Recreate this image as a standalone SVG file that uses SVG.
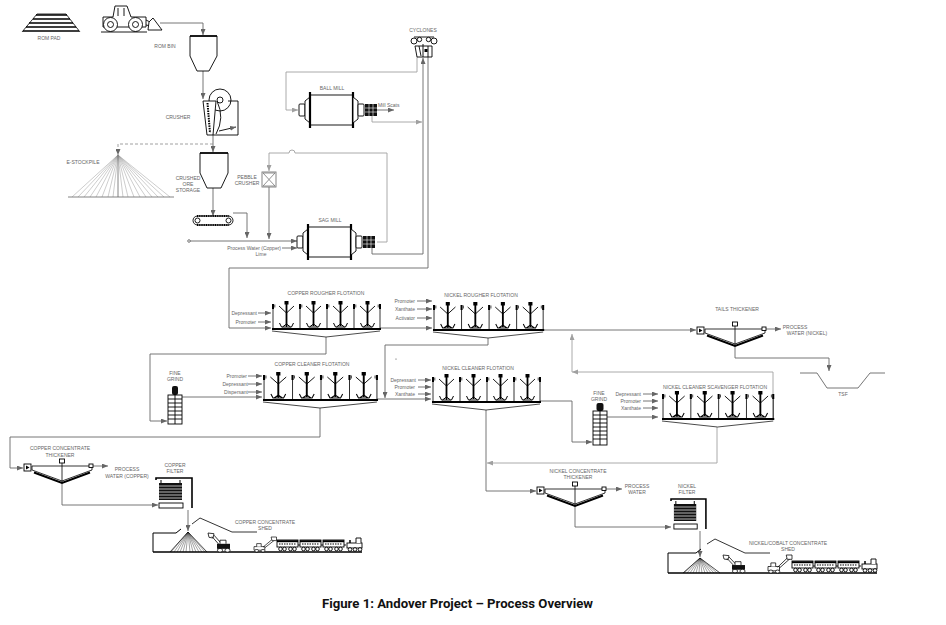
<svg xmlns="http://www.w3.org/2000/svg" width="946" height="625" viewBox="0 0 946 625">
<style>
.lb{font-family:"Liberation Sans",Arial,sans-serif;font-size:5px;fill:#666}
.m{text-anchor:middle}
.e{text-anchor:end}
.ln{fill:none;stroke:#666;stroke-width:0.9}
.lt{fill:none;stroke:#a0a0a0;stroke-width:0.9}
.k{fill:none;stroke:#000;stroke-width:0.9}
.kw{fill:#fff;stroke:#000;stroke-width:0.9}
.ttl{font-family:Roboto,"Liberation Sans",Arial,sans-serif;font-size:12px;font-weight:bold;fill:#111}
</style>
<defs>
<marker id="a" viewBox="0 0 6 5" refX="6" refY="2.5" markerWidth="6" markerHeight="5" markerUnits="userSpaceOnUse" orient="auto"><path d="M0,0L6,2.5L0,5Z" fill="#666"/></marker>
<marker id="b" viewBox="0 0 6 5" refX="6" refY="2.5" markerWidth="6" markerHeight="5" markerUnits="userSpaceOnUse" orient="auto"><path d="M0,0L6,2.5L0,5Z" fill="#a0a0a0"/></marker>
<g id="bank">
 <path fill="none" stroke="#000" stroke-width="0.8" d="M1,6V28M28,6V28M55,6V28M82,6V28M108,6V28"/>
 <path fill="none" stroke="#000" stroke-width="2" d="M1,3V8M28,3V8M55,3V8M82,3V8M108,3V8"/>
 <path fill="none" stroke="#000" stroke-width="0.7" d="M2.8,3.5V6.5M29.8,3.5V6.5M56.8,3.5V6.5M83.8,3.5V6.5M106.2,3.5V6.5"/>
 <path fill="none" stroke="#000" stroke-width="1.8" d="M14.5,3V25M41.5,3V25M68.5,3V25M95.5,3V25"/>
 <path fill="none" stroke="#000" stroke-width="0.9" d="M7,5L14.5,12L22,5M34,5L41.5,12L49,5M61,5L68.5,12L76,5M88,5L95.5,12L103,5"/>
 <path fill="none" stroke="#000" stroke-width="1" d="M7.5,22L9.5,26H19.5L21.5,22M10.5,26L14.5,23L18.5,26M14.5,23V26M34.5,22L36.5,26H46.5L48.5,22M37.5,26L41.5,23L45.5,26M61.5,22L63.5,26H73.5L75.5,22M64.5,26L68.5,23L72.5,26M88.5,22L90.5,26H100.5L102.5,22M91.5,26L95.5,23L99.5,26"/>
 <path fill="#000" d="M12.5,0h4v3.5h-4zM39.5,0h4v3.5h-4zM66.5,0h4v3.5h-4zM93.5,0h4v3.5h-4z"/>
 <path fill="none" stroke="#000" stroke-width="2" d="M0,28H109"/>
 <path fill="none" stroke="#000" stroke-width="0.7" d="M0,30L54,36L108,30"/>
</g>
<g id="mill">
 <rect class="kw" x="-11" y="12" width="6" height="12" rx="1"/>
 <path class="kw" d="M-5,9L0,5V31L-5,27Z"/>
 <rect class="kw" x="0" y="3" width="43" height="30"/>
 <path fill="none" stroke="#000" stroke-width="2.2" d="M0,0V36M43,0V36"/>
 <path class="kw" d="M43,5L48,9V27L43,31Z"/>
 <rect class="kw" x="48" y="12" width="6" height="12" rx="1"/>
 <rect x="55" y="12" width="12" height="12" fill="#111"/>
 <path fill="none" stroke="#fff" stroke-width="0.6" d="M55,16H67M55,20H67M59,12V24M63,12V24"/>
</g>
<g id="thk">
 <rect class="kw" x="-38" y="-2" width="7" height="7"/>
 <path d="M-36,-0.5L-32.5,1.5L-36,3.5Z" fill="#000"/>
 <path fill="none" stroke="#000" stroke-width="0.8" d="M-30,0H30M-30,0V4M30,0V4M-30,4L0,15L30,4"/>
 <path fill="none" stroke="#000" stroke-width="2" d="M-28,6.5L0,17L28,6.5"/>
 <path fill="none" stroke="#000" stroke-width="0.8" d="M0,-3V17"/>
 <rect class="kw" x="-2.5" y="-7" width="5" height="4"/>
 <rect class="kw" x="27" y="-2" width="4" height="3.5"/>
</g>
<g id="filt">
 <path fill="none" stroke="#000" stroke-width="1.6" d="M0,2V0H36V30"/>
 <rect x="3" y="5" width="23" height="17" fill="#111"/>
 <path fill="none" stroke="#fff" stroke-width="0.7" d="M3,8H26M3,11H26M3,14H26M3,17H26M3,20H26"/>
 <path fill="none" stroke="#000" stroke-width="1" d="M5,2V5M24,2V5"/>
 <rect class="kw" x="3" y="25" width="24" height="5"/>
</g>
<g id="ldr">
 <path class="kw" d="M0,0L6,1L5,7L1,6Z"/>
 <path class="k" d="M4,5L11,16M6,3L13,14"/>
 <path class="kw" d="M12,15V10H18V15"/>
 <rect x="9" y="15" width="13" height="7" fill="#111"/>
 <circle class="kw" cx="12" cy="24" r="2.6"/>
 <circle class="kw" cx="19.5" cy="24" r="2.6"/>
</g>
<g id="crn">
 <path class="kw" d="M0,16H12V22H0Z"/>
 <path class="kw" d="M3,16V11H8V16"/>
 <path class="k" d="M10,17L21,3M12,18L23,5"/>
 <path class="kw" d="M19,0H25V6H20Z"/>
 <circle class="kw" cx="3" cy="23" r="2.2"/>
 <circle class="kw" cx="10" cy="23" r="2.2"/>
</g>
<g id="wag">
 <rect class="kw" x="0" y="0" width="21" height="7"/>
 <path fill="none" stroke="#000" stroke-width="2" d="M0,1.2H21"/>
 <path fill="none" stroke="#000" stroke-width="1.2" stroke-dasharray="1.5 1" d="M2,4H19"/>
 <path class="k" d="M21,5H23"/>
 <circle class="kw" cx="3.5" cy="9" r="1.8"/>
 <circle class="kw" cx="7.5" cy="9" r="1.8"/>
 <circle class="kw" cx="13.5" cy="9" r="1.8"/>
 <circle class="kw" cx="17.5" cy="9" r="1.8"/>
</g>
<g id="loco">
 <rect class="kw" x="0" y="5" width="15" height="5"/>
 <path class="kw" d="M9,5V0H14V5"/>
 <path fill="none" stroke="#000" stroke-width="1.5" d="M3,5V2"/>
 <circle class="kw" cx="3" cy="11.5" r="1.8"/>
 <circle class="kw" cx="8" cy="11.5" r="1.8"/>
 <circle class="kw" cx="13" cy="11.5" r="1.8"/>
</g>
</defs>
<rect width="946" height="625" fill="#fff"/>

<g id="connectors">
 <path class="ln" marker-end="url(#a)" d="M160,23H203V35"/>
 <path class="ln" marker-end="url(#a)" d="M203,71V99"/>
 <path class="ln" marker-end="url(#a)" d="M213,135V152"/>
 <path fill="none" stroke="#888" stroke-width="0.8" stroke-dasharray="3 2" marker-end="url(#a)" d="M213,144H118V155"/>
 <path class="ln" marker-end="url(#a)" d="M213,188V216"/>
 <path class="ln" marker-end="url(#a)" d="M233,213H247V238"/>
 <path class="ln" stroke="#444" marker-end="url(#a)" d="M189,241H297"/>
 <circle cx="189" cy="241" r="1.3" fill="#fff" stroke="#444" stroke-width="0.7"/>
 <path class="ln" marker-end="url(#a)" d="M282,248H297"/>
 <path class="ln" marker-end="url(#a)" d="M269,187V239"/>
 <path class="lt" marker-end="url(#b)" d="M377,242H387V153H295A3,3 0 0 0 289,153H269V171"/>
 <path class="ln" marker-end="url(#a)" d="M372,248V254H423V58"/>
 <path class="ln" marker-end="url(#a)" d="M428,57V268H229V328H271"/>
 <path class="lt" marker-end="url(#b)" d="M417,57V72H286V110H298"/>
 <path class="lt" marker-end="url(#b)" d="M372,116V122H422"/>
 <path class="ln" marker-end="url(#a)" d="M377,110H394"/>
 <path class="ln" marker-end="url(#a)" d="M380,328H432"/>
 <path class="ln" marker-end="url(#a)" d="M326,337V354H150V421H167"/>
 <path class="ln" marker-end="url(#a)" d="M182,397H262"/>
 <path class="ln" marker-end="url(#a)" d="M377,399H431"/>
 <path class="ln" marker-end="url(#a)" d="M488,338V345H385V398"/>
 <path class="ln" marker-end="url(#a)" d="M543,330H696"/>
 <path class="lt" marker-end="url(#b)" d="M773,418V372H572V334"/>
 <path d="M578,369.5L572,372L578,374.5Z" fill="#a0a0a0"/>
 <path class="ln" marker-end="url(#a)" d="M540,401H572V442H592"/>
 <path class="ln" marker-end="url(#a)" d="M607,417H658"/>
 <path class="lt" marker-end="url(#b)" d="M717,427V463H487"/>
 <path class="ln" marker-end="url(#a)" d="M486,410V491H536"/>
 <path class="ln" marker-end="url(#a)" d="M320,408V437H10V468H23"/>
 <path class="ln" marker-end="url(#a)" d="M93,466H108"/>
 <path class="ln" marker-end="url(#a)" d="M62,483V505H158"/>
 <path class="ln" marker-end="url(#a)" d="M188,510V531"/>
 <path class="ln" marker-end="url(#a)" d="M606,489H622"/>
 <path class="ln" marker-end="url(#a)" d="M575,506V527H671"/>
 <path class="ln" marker-end="url(#a)" d="M700,531V557"/>
 <path class="ln" marker-end="url(#a)" d="M766,329H781"/>
 <path class="ln" marker-end="url(#a)" d="M735,346V358H829V371"/>
 <g class="ln">
  <path marker-end="url(#a)" d="M258,313H271"/>
  <path marker-end="url(#a)" d="M258,322H271"/>
  <path marker-end="url(#a)" d="M417,301H432"/>
  <path marker-end="url(#a)" d="M417,309H432"/>
  <path marker-end="url(#a)" d="M417,318H432"/>
  <path marker-end="url(#a)" d="M248,376H262"/>
  <path marker-end="url(#a)" d="M248,384H262"/>
  <path marker-end="url(#a)" d="M248,392H262"/>
  <path marker-end="url(#a)" d="M418,380H431"/>
  <path marker-end="url(#a)" d="M418,387H431"/>
  <path marker-end="url(#a)" d="M418,394H431"/>
  <path marker-end="url(#a)" d="M643,394H658"/>
  <path marker-end="url(#a)" d="M643,401H658"/>
  <path marker-end="url(#a)" d="M643,408H658"/>
 </g>
</g>

<g id="rom-pad">
 <path fill="none" stroke="#000" stroke-width="0.8" d="M22,32L37,14H66L80,32"/>
 <path fill="none" stroke="#000" stroke-width="1.6" d="M36,15H67M33,19H70M29,23H73M26,27H76M23,31H79"/>
 <text class="lb m" x="49" y="40">ROM PAD</text>
</g>
<g id="loader">
 <path class="kw" stroke-width="1" d="M103,27V17H113L115,6H127L131,17H146V27Z"/>
 <path class="k" d="M118,8V16M124,8V16"/>
 <circle class="kw" stroke-width="1.4" cx="110.5" cy="24.5" r="7"/>
 <circle class="kw" cx="110.5" cy="24.5" r="3"/>
 <circle class="kw" stroke-width="1.4" cx="135.5" cy="24.5" r="7"/>
 <circle class="kw" cx="135.5" cy="24.5" r="3"/>
 <path class="k" d="M146,20L152,23M146,25L151,26"/>
 <path class="kw" d="M148,30H162L153,18L149,22Z"/>
 <path class="k" stroke-width="1.2" d="M101,32H147"/>
</g>
<g id="rom-bin">
 <path class="kw" d="M190,36H217V56L209,71H197L190,56Z"/>
 <path fill="none" stroke="#000" stroke-width="1.6" d="M190,36H217"/>
 <text class="lb m" x="165" y="48">ROM BIN</text>
</g>
<g id="crusher">
 <circle class="kw" cx="220" cy="100" r="11"/>
 <path class="kw" d="M203,101H216L213,135H207Z"/>
 <path fill="none" stroke="#000" stroke-width="2" stroke-dasharray="1.5 1" d="M207.5,103L210,133"/>
 <path class="k" d="M217,101Q225,118 216,134"/>
 <path class="k" d="M228,101H238V135H213"/>
 <circle class="kw" cx="220" cy="100" r="3"/>
 <path class="k" marker-end="url(#a)" d="M219,131L236,127"/>
 <text class="lb m" x="178" y="119">CRUSHER</text>
</g>
<g id="e-stockpile">
 <path fill="none" stroke="#9a9a9a" stroke-width="0.5" d="M118,155L72,197M118,155L78,197M118,155L84,197M118,155L90,197M118,155L96,197M118,155L102,197M118,155L108,197M118,155L113,197M118,155L123,197M118,155L128,197M118,155L134,197M118,155L140,197M118,155L146,197M118,155L152,197M118,155L158,197M118,155L164,197M118,155L170,197"/>
 <path fill="none" stroke="#666" stroke-width="0.8" d="M118,155V197M68,197H174"/>
 <text class="lb m" x="83" y="164">E-STOCKPILE</text>
</g>
<g id="crushed-ore-storage">
 <path class="kw" d="M200,153H228V173L221,188H207L200,173Z"/>
 <path fill="none" stroke="#000" stroke-width="1.6" d="M200,153H228"/>
 <text class="lb m" x="188" y="180">CRUSHED</text>
 <text class="lb m" x="188" y="186">ORE</text>
 <text class="lb m" x="188" y="192">STORAGE</text>
</g>
<g id="conveyor">
 <rect class="kw" x="193" y="216" width="40" height="9" rx="4.5"/>
 <path fill="none" stroke="#000" stroke-width="2" stroke-dasharray="1 0.8" d="M197,216H229M197,225H229"/>
 <circle class="kw" cx="197.5" cy="220.5" r="2.5"/>
 <circle class="kw" cx="228.5" cy="220.5" r="2.5"/>
</g>
<g id="pebble-crusher">
 <rect x="262" y="172" width="14" height="15" fill="#fff" stroke="#777" stroke-width="0.9"/>
 <path fill="none" stroke="#777" stroke-width="0.8" d="M263,173L275,186M275,173L263,186M263,173H275M263,186H275"/>
 <text class="lb m" x="247" y="179">PEBBLE</text>
 <text class="lb m" x="247" y="185">CRUSHER</text>
</g>
<g id="ball-mill">
 <use href="#mill" transform="translate(310,92)"/>
 <text class="lb m" x="332" y="90">BALL MILL</text>
 <text class="lb" x="378" y="107">Mill Scats</text>
</g>
<g id="sag-mill">
 <use href="#mill" transform="translate(308,224)"/>
 <text class="lb m" x="330" y="222">SAG MILL</text>
 <text class="lb e" x="281" y="250">Process Water (Copper)</text>
 <text class="lb m" x="261" y="256">Lime</text>
</g>
<g id="cyclones">
 <text class="lb m" x="423" y="32">CYCLONES</text>
 <path class="k" d="M414,37H434"/>
 <circle class="kw" cx="414" cy="41" r="3"/>
 <circle class="kw" cx="434" cy="41" r="3"/>
 <circle class="kw" cx="419.5" cy="39.5" r="2.2"/>
 <circle class="kw" cx="428.5" cy="39.5" r="2.2"/>
 <path class="kw" stroke-width="1.3" d="M415,46H432V57H417Z"/>
 <path class="k" d="M423,44V57M419,46L421,56M428,46V57"/>
 <rect x="424.5" y="49" width="3" height="3" fill="#000"/>
</g>
<g id="copper-rougher-flotation">
 <use href="#bank" transform="translate(272,301)"/>
 <text class="lb m" x="326" y="295">COPPER ROUGHER FLOTATION</text>
 <text class="lb e" x="257" y="315">Depressant</text>
 <text class="lb e" x="256" y="324">Promoter</text>
</g>
<g id="nickel-rougher-flotation">
 <use href="#bank" transform="translate(433,302) scale(1.02,1)"/>
 <text class="lb m" x="481" y="297">NICKEL ROUGHER FLOTATION</text>
 <text class="lb e" x="415" y="303">Promoter</text>
 <text class="lb e" x="415" y="311">Xanthate</text>
 <text class="lb e" x="415" y="320">Activator</text>
</g>
<g id="copper-cleaner-flotation">
 <use href="#bank" transform="translate(263,372) scale(1.055,1)"/>
 <text class="lb m" x="312" y="366">COPPER CLEANER FLOTATION</text>
 <text class="lb e" x="247" y="378">Promoter</text>
 <text class="lb e" x="248" y="386">Depressant</text>
 <text class="lb e" x="248" y="394">Dispersant</text>
</g>
<g id="nickel-cleaner-flotation">
 <use href="#bank" transform="translate(432,374)"/>
 <text class="lb m" x="478" y="370">NICKEL CLEANER FLOTATION</text>
 <text class="lb e" x="416" y="382">Depressant</text>
 <text class="lb e" x="415" y="389">Promoter</text>
 <text class="lb e" x="415" y="396">Xanthate</text>
</g>
<g id="nickel-cleaner-scavenger-flotation">
 <use href="#bank" transform="translate(662,391) scale(1.03,1)"/>
 <text class="lb m" x="715" y="389">NICKEL CLEANER SCAVENGER FLOTATION</text>
 <text class="lb e" x="641" y="396">Depressant</text>
 <text class="lb e" x="641" y="403">Promoter</text>
 <text class="lb e" x="641" y="410">Xanthate</text>
</g>
<g id="copper-fine-grind">
 <rect x="172" y="386" width="6" height="9" rx="2" fill="#111"/>
 <rect class="kw" x="168" y="395" width="14" height="29"/>
 <path class="k" stroke-width="0.7" d="M175,395V424M168,399H182M168,403H182M168,407H182M168,411H182M168,415H182M168,419H182"/>
 <text class="lb m" x="175" y="375">FINE</text>
 <text class="lb m" x="175" y="381">GRIND</text>
</g>
<g id="nickel-fine-grind">
 <rect x="596.5" y="403" width="7" height="8" rx="2" fill="#111"/>
 <rect class="kw" x="593" y="411" width="14" height="34"/>
 <path class="k" stroke-width="0.7" d="M600,411V445M593,415H607M593,419H607M593,423H607M593,427H607M593,431H607M593,435H607M593,439H607"/>
 <text class="lb m" x="599" y="395">FINE</text>
 <text class="lb m" x="599" y="401">GRIND</text>
</g>
<g id="tails-thickener">
 <use href="#thk" transform="translate(735,329)"/>
 <text class="lb m" x="737" y="311">TAILS THICKENER</text>
 <text class="lb m" x="795" y="329">PROCESS</text>
 <text class="lb m" x="807" y="335">WATER (NICKEL)</text>
</g>
<g id="tsf">
 <path fill="none" stroke="#666" stroke-width="0.9" d="M800,373H817L827,388H858L870,373H885"/>
 <text class="lb m" x="843" y="396">TSF</text>
</g>
<g id="copper-concentrate-thickener">
 <use href="#thk" transform="translate(62,466)"/>
 <text class="lb m" x="60" y="450">COPPER CONCENTRATE</text>
 <text class="lb m" x="60" y="456.5">THICKENER</text>
 <text class="lb m" x="127" y="471">PROCESS</text>
 <text class="lb m" x="127" y="478">WATER (COPPER)</text>
</g>
<g id="copper-filter">
 <use href="#filt" transform="translate(156,478)"/>
 <text class="lb m" x="175" y="467">COPPER</text>
 <text class="lb m" x="175" y="473">FILTER</text>
</g>
<g id="copper-concentrate-shed">
 <path fill="none" stroke="#333" stroke-width="0.45" d="M188,532L171,552M188,532L174,552M188,532L177,552M188,532L180,552M188,532L183,552M188,532L186,552M188,532L190,552M188,532L193,552M188,532L196,552M188,532L199,552M188,532L202,552M188,532L205,552"/>
 <path fill="none" stroke="#000" stroke-width="0.7" d="M170,552L188,532L207,552"/>
 <path fill="none" stroke="#000" stroke-width="1.6" d="M153,552H362"/>
 <path fill="none" stroke="#000" stroke-width="1" d="M153,552V533H176L181,529"/>
 <path fill="none" stroke="#000" stroke-width="0.8" d="M192,524L200,518L232,532H257"/>
 <use href="#ldr" transform="translate(208,533) scale(1,0.72)"/>
 <use href="#crn" transform="translate(254,537) scale(0.9,0.6)"/>
 <use href="#wag" transform="translate(277,540)"/>
 <use href="#wag" transform="translate(300,540)"/>
 <use href="#wag" transform="translate(323,540)"/>
 <use href="#loco" transform="translate(347,538)"/>
 <text class="lb m" x="265" y="524">COPPER CONCENTRATE</text>
 <text class="lb m" x="265" y="530">SHED</text>
</g>
<g id="nickel-concentrate-thickener">
 <use href="#thk" transform="translate(575,489)"/>
 <text class="lb m" x="578" y="473">NICKEL CONCENTRATE</text>
 <text class="lb m" x="578" y="479">THICKENER</text>
 <text class="lb m" x="637" y="488">PROCESS</text>
 <text class="lb m" x="637" y="494">WATER</text>
</g>
<g id="nickel-filter">
 <use href="#filt" transform="translate(671,499) scale(0.97,1)"/>
 <text class="lb m" x="687" y="488">NICKEL</text>
 <text class="lb m" x="687" y="494">FILTER</text>
</g>
<g id="nickel-cobalt-concentrate-shed">
 <path fill="none" stroke="#333" stroke-width="0.45" d="M700,558L684,573M700,558L687,573M700,558L690,573M700,558L693,573M700,558L696,573M700,558L699,573M700,558L702,573M700,558L705,573M700,558L708,573M700,558L711,573M700,558L714,573M700,558L717,573"/>
 <path fill="none" stroke="#000" stroke-width="0.7" d="M683,573L700,558L720,573"/>
 <path fill="none" stroke="#000" stroke-width="1.6" d="M668,573H877"/>
 <path fill="none" stroke="#000" stroke-width="1" d="M668,573V553H696L701,549"/>
 <path fill="none" stroke="#000" stroke-width="0.8" d="M707,544L715,539L745,553H770"/>
 <use href="#ldr" transform="translate(723,555) scale(1,0.67)"/>
 <use href="#crn" transform="translate(768,555) scale(0.96,0.72)"/>
 <use href="#wag" transform="translate(792,561)"/>
 <use href="#wag" transform="translate(815,561)"/>
 <use href="#wag" transform="translate(838,561)"/>
 <use href="#loco" transform="translate(862,559)"/>
 <text class="lb m" x="788" y="545">NICKEL/COBALT CONCENTRATE</text>
 <text class="lb m" x="788" y="551">SHED</text>
</g>
<circle cx="396" cy="359" r="0.6" fill="#444"/>
<g id="title">
 <text class="ttl" x="322" y="608" textLength="271" lengthAdjust="spacingAndGlyphs">Figure 1: Andover Project – Process Overview</text>
</g>
</svg>
